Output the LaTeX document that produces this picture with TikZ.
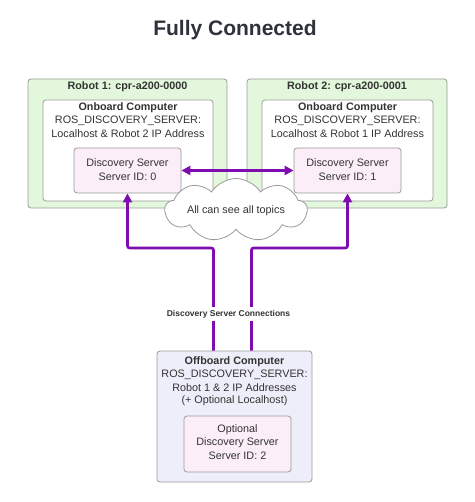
\documentclass[tikz,border=0pt]{standalone}
\usepackage{fontspec}
\setmainfont{Liberation Sans}
\usetikzlibrary{arrows.meta,shapes.symbols}
\definecolor{titlecol}{HTML}{2E323B}
\definecolor{txt}{HTML}{333333}
\definecolor{frame}{HTML}{9A9A9A}
\definecolor{robotfill}{HTML}{E2F7DC}
\definecolor{discfill}{HTML}{FCEEF8}
\definecolor{offfill}{HTML}{EEEEFB}
\definecolor{conn}{HTML}{7F0CAE}
\begin{document}
\begin{tikzpicture}[x=1pt,y=-1pt,
  box/.style={draw=frame, line width=0.8pt, rounded corners=3pt, inner sep=0pt},
  txtline/.style={text=txt, inner sep=0pt, font=\fontsize{10.8}{13}\selectfont},
  boldline/.style={text=txt, inner sep=0pt, font=\fontsize{10.8}{13}\selectfont\bfseries},
  conline/.style={draw=conn, line width=2.6pt},
  tip/.style={-{Triangle[length=9pt,width=9pt]}},
  bothtips/.style={{Triangle[length=9pt,width=9pt]}-{Triangle[length=9pt,width=9pt]}}
]
\useasboundingbox (0,0) rectangle (474,502);
\node[font=\fontsize{21}{25}\selectfont\bfseries, text=titlecol, inner sep=0pt] (title) at (235,30) {Fully Connected};

% Robot 1
\node[box, fill=robotfill, minimum width=199pt, minimum height=129pt] (r1) at (127.5,143.5) {};
\node[boldline] (r1t) at (127.5,86.5) {Robot 1: cpr-a200-0000};
\node[box, fill=white, minimum width=170pt, minimum height=101pt] (ob1) at (128,150.5) {};
\node[boldline] (ob1a) at (128,107.5) {Onboard Computer};
\node[txtline] (ob1b) at (128,120.5) {ROS\_DISCOVERY\_SERVER:};
\node[txtline] (ob1c) at (128,133.5) {Localhost \& Robot 2 IP Address};
\node[box, fill=discfill, minimum width=107pt, minimum height=45pt] (d1) at (127.5,170.5) {};
\node[txtline] (d1a) at (127.5,163.5) {Discovery Server};
\node[txtline] (d1b) at (127.5,176.5) {Server ID: 0};

% Robot 2
\node[box, fill=robotfill, minimum width=200pt, minimum height=129pt] (r2) at (347,143.5) {};
\node[boldline] (r2t) at (347,86.5) {Robot 2: cpr-a200-0001};
\node[box, fill=white, minimum width=171pt, minimum height=101pt] (ob2) at (347.5,150.5) {};
\node[boldline] (ob2a) at (347.5,107.5) {Onboard Computer};
\node[txtline] (ob2b) at (347.5,120.5) {ROS\_DISCOVERY\_SERVER:};
\node[txtline] (ob2c) at (347.5,133.5) {Localhost \& Robot 1 IP Address};
\node[box, fill=discfill, minimum width=107pt, minimum height=45pt] (d2) at (347.5,170.5) {};
\node[txtline] (d2a) at (347.5,163.5) {Discovery Server};
\node[txtline] (d2b) at (347.5,176.5) {Server ID: 1};

% Offboard
\node[box, fill=offfill, minimum width=155pt, minimum height=131pt] (off) at (234.5,416.5) {};
\node[boldline] (offa) at (234.5,361.5) {Offboard Computer};
\node[txtline] (offb) at (234.5,374.5) {ROS\_DISCOVERY\_SERVER:};
\node[txtline] (offc) at (234.5,387.5) {Robot 1 \& 2 IP Addresses};
\node[txtline] (offd) at (234.5,400.5) {(+ Optional Localhost)};
\node[box, fill=discfill, minimum width=107pt, minimum height=56pt] (d3) at (237.5,444) {};
\node[txtline] (d3a) at (237.5,429.5) {Optional};
\node[txtline] (d3b) at (237.5,442.5) {Discovery Server};
\node[txtline] (d3c) at (237.5,455.5) {Server ID: 2};

% horizontal connection
\draw[conline, bothtips] (d1.east) -- (d2.west);

% cloud
\node[cloud, cloud puffs=9, cloud puff arc=115, aspect=2.3, draw=frame, line width=0.8pt, fill=white,
      minimum width=142pt, minimum height=63pt, inner sep=0pt] (cl) at (236,210) {};
\node[txtline] (clt) at (236,210.5) {All can see all topics};

% vertical connections
\coordinate (k1) at (213.5,248);
\coordinate (k2) at (251.5,248);
\draw[conline, tip, rounded corners=2pt] (off.north -| k1) -- (k1) -| (d1.south);
\draw[conline, tip, rounded corners=2pt] (off.north -| k2) -- (k2) -| (d2.south);

\node[fill=white, inner xsep=1pt, inner ysep=3pt, text=txt, font=\fontsize{8.5}{10}\selectfont\bfseries] (lab) at (228.5,314) {Discovery Server Connections};
\end{tikzpicture}
\end{document}
